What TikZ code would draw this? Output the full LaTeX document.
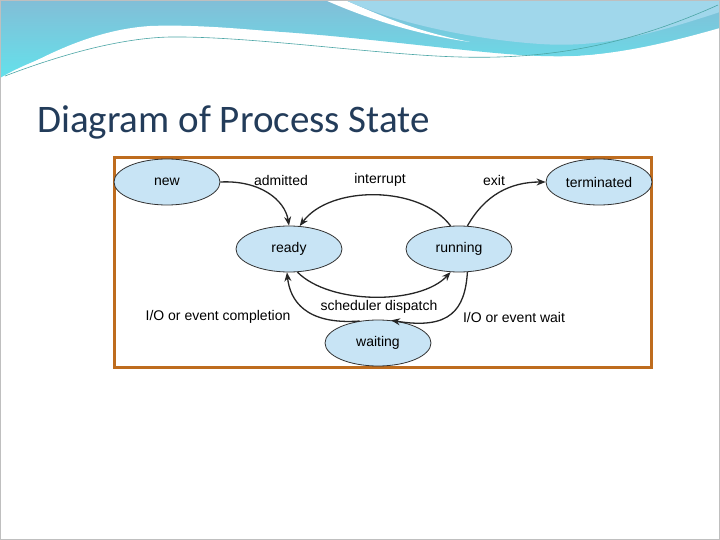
\documentclass[tikz,border=0pt]{standalone}
\usepackage{fontspec}
\setmainfont{Liberation Sans}
\newfontfamily\titlefont{Carlito}
\usetikzlibrary{arrows.meta,shapes.geometric}
\definecolor{st}{RGB}{200,228,245}
\definecolor{frame}{RGB}{190,108,30}
\definecolor{ttl}{RGB}{35,60,90}
\definecolor{wv1}{RGB}{130,190,215}
\definecolor{wv2}{RGB}{100,225,235}
\definecolor{wv3}{RGB}{160,215,235}
\begin{document}
\begin{tikzpicture}[x=1pt,y=-1pt,
  state/.style={ellipse,draw=black!80,line width=0.8pt,fill=st,minimum width=106pt,minimum height=46pt,inner sep=0pt,font=\fontsize{14}{16}\selectfont},
  lbl/.style={font=\fontsize{14}{16}\selectfont,inner sep=1pt},
  conn/.style={-{Stealth[length=9pt,width=7pt]},line width=1.3pt,black!85}]
\useasboundingbox (0,0) rectangle (720,540);
\fill[white] (0,0) rectangle (720,540);
% header decoration
\shade[top color=wv1,bottom color=wv2] (0,0) -- (720,0) -- (720,30) .. controls (640,50) and (600,60) .. (520,55) .. controls (420,48) and (250,20) .. (150,32) .. controls (80,42) and (30,60) .. (0,78) -- cycle;
\fill[white] (325,0) -- (345,0) .. controls (390,20) and (420,32) .. (470,42) .. controls (420,35) and (370,20) .. cycle;
\fill[wv3] (345,0) -- (720,0) -- (720,12) .. controls (650,35) and (600,48) .. (540,44) .. controls (480,40) and (400,25) .. cycle;
\fill[white] (0,80) .. controls (40,58) and (90,30) .. (150,26) .. controls (250,22) and (420,52) .. (520,57) .. controls (600,60) and (660,45) .. (720,28) -- (720,540) -- (0,540) -- cycle;
\draw[teal!70,line width=0.6pt] (5,76) .. controls (60,55) and (120,38) .. (170,37) .. controls (250,36) and (380,55) .. (460,57) .. controls (560,60) and (640,40) .. (718,5);
\draw[gray!50,line width=0.6pt] (0.5,0.5) rectangle (719.5,539.5);
\node[anchor=base west,inner sep=0pt,text=ttl,font=\titlefont\fontsize{39}{44}\selectfont] (title) at (37,133) {Diagram of Process State};
\draw[frame,line width=3pt] (114,158) rectangle (651,367);
\node[state] (new) at (167,182) {new};
\node[state] (term) at (599,182) {terminated};
\node[state] (ready) at (289,249) {ready};
\node[state] (run) at (459,249) {running};
\node[state] (wait) at (378,343) {waiting};
\draw[conn] (new.east) .. controls (260,180) and (285,200) .. (ready.north);
\draw[conn] (run.110) .. controls (420,185) and (330,185) .. (ready.65);
\draw[conn] (run.70) .. controls (485,195) and (510,182) .. (term.west);
\draw[conn] (ready.-70) .. controls (330,305) and (420,305) .. (run.-110);
\draw[conn] (run.-70) .. controls (465,310) and (450,330) .. (wait.60);
\draw[conn] (wait.130) .. controls (305,325) and (290,300) .. (ready.-95);
\node[lbl] (l1) at (281,180) {admitted};
\node[lbl] (l2) at (380,180) {interrupt};
\node[lbl] (l3) at (494,180) {exit};
\node[lbl] (l4) at (218,317) {I/O or event completion};
\node[lbl] (l5) at (379,307) {scheduler dispatch};
\node[lbl] (l6) at (514,317) {I/O or event wait};
\end{tikzpicture}
\end{document}
